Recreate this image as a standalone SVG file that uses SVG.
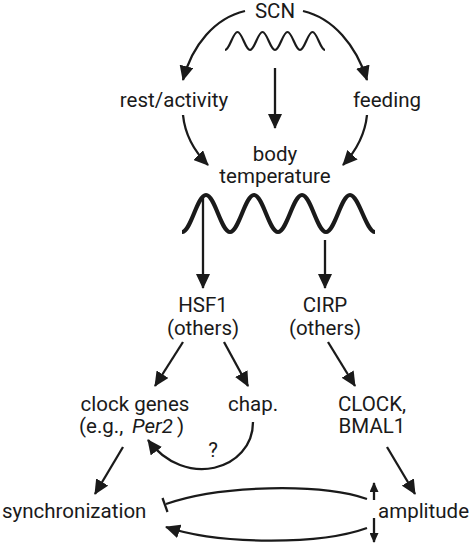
<svg xmlns="http://www.w3.org/2000/svg" width="474" height="545" viewBox="0 0 474 545">
<style>
text{font-family:Roboto,"Liberation Sans",sans-serif;font-size:20.5px;font-weight:400;fill:#1a1a1a;text-anchor:middle}
.l{text-anchor:start}
.c{fill:none;stroke:#1a1a1a;stroke-width:2.3}
.a{marker-end:url(#ah)}
.s{marker-end:url(#sm)}
.w{fill:none;stroke:#1a1a1a}
</style>
<defs>
<marker id="ah" viewBox="0 0 15 14" refX="14" refY="7" markerWidth="15" markerHeight="14" orient="auto" markerUnits="userSpaceOnUse"><path d="M0,0 L15,7 L0,14 z" fill="#1a1a1a"/></marker>
<marker id="sm" viewBox="0 0 10 9" refX="9" refY="4.5" markerWidth="10" markerHeight="9" orient="auto" markerUnits="userSpaceOnUse"><path d="M0,0 L10,4.5 L0,9 z" fill="#1a1a1a"/></marker>
</defs>
<rect width="474" height="545" fill="#fff"/>
<g id="scn"><text x="275" y="18">SCN</text>
<path class="w" stroke-width="2.2" d="M225,50 C229.6,50 232.9,32 237.5,32 C242.1,32 245.4,50 250,50 C254.6,50 257.9,32 262.5,32 C267.1,32 270.4,50 275,50 C279.6,50 282.9,32 287.5,32 C292.1,32 295.4,50 300,50 C304.6,50 307.9,32 312.5,32 C317.1,32 320.4,50 325,50"/></g>
<g id="rest"><text x="174" y="107">rest/activity</text></g>
<g id="feeding"><text x="387" y="107">feeding</text></g>
<g id="body"><text x="275" y="161">body</text><text x="275" y="183">temperature</text>
<path class="w" stroke-width="4.2" d="M182,232 C190.8,232 197.2,195 206,195 C214.8,195 221.2,232 230,232 C238.8,232 245.2,195 254,195 C262.8,195 269.2,232 278,232 C286.8,232 293.2,195 302,195 C310.8,195 317.2,232 326,232 C334.8,232 341.2,195 350,195 C358.8,195 366.2,232 375,232"/></g>
<g id="hsf1"><text x="203" y="312">HSF1</text><text x="203" y="335">(others)</text></g>
<g id="cirp"><text x="325" y="312">CIRP</text><text x="325" y="335">(others)</text></g>
<g id="clock"><text x="135" y="411">clock genes</text><text class="l" x="79" y="433">(e.g., <tspan x="132" font-style="italic">Per2</tspan><tspan x="177">)</tspan></text></g>
<g id="chap"><text x="253" y="411">chap.</text></g>
<g id="clockbmal"><text x="372" y="411">CLOCK,</text><text x="372" y="433">BMAL1</text></g>
<g id="sync"><text class="l" x="2" y="518">synchronization</text></g>
<g id="amp"><text class="l" x="378" y="518">amplitude</text></g>
<g id="connectors">
<path class="c a" d="M245,11 C215,18 192,45 183,80"/>
<path class="c a" d="M303,11 C333,18 356,45 367,80"/>
<path class="c a" d="M275,68 L275,128"/>
<path class="c a" d="M183,115 C185,135 195,152 208,165"/>
<path class="c a" d="M367,115 C365,135 355,152 343,165"/>
<path class="c a" d="M203,197 L203,288"/>
<path class="c a" d="M325,240 L325,288"/>
<path class="c a" d="M183,342 L155,386"/>
<path class="c a" d="M224,342 L248,386"/>
<path class="c a" d="M328,342 L355,386"/>
<path class="c a" d="M253,422 C253,470 185,490 148,440"/>
<text x="213" y="457">?</text>
<path class="c a" d="M123,447 L95,494"/>
<path class="c a" d="M387,447 L415,494"/>
<path class="c" d="M367,499 C320,483 220,485 166,504"/>
<path class="c" stroke-width="3.5" d="M162.5,498 L167.5,512"/>
<path class="c a" d="M367,528 C320,545 220,545 166,527"/>
<path class="c s" d="M374,500 L374,483"/>
<path class="c s" d="M374,518 L374,542"/>
</g>
</svg>
